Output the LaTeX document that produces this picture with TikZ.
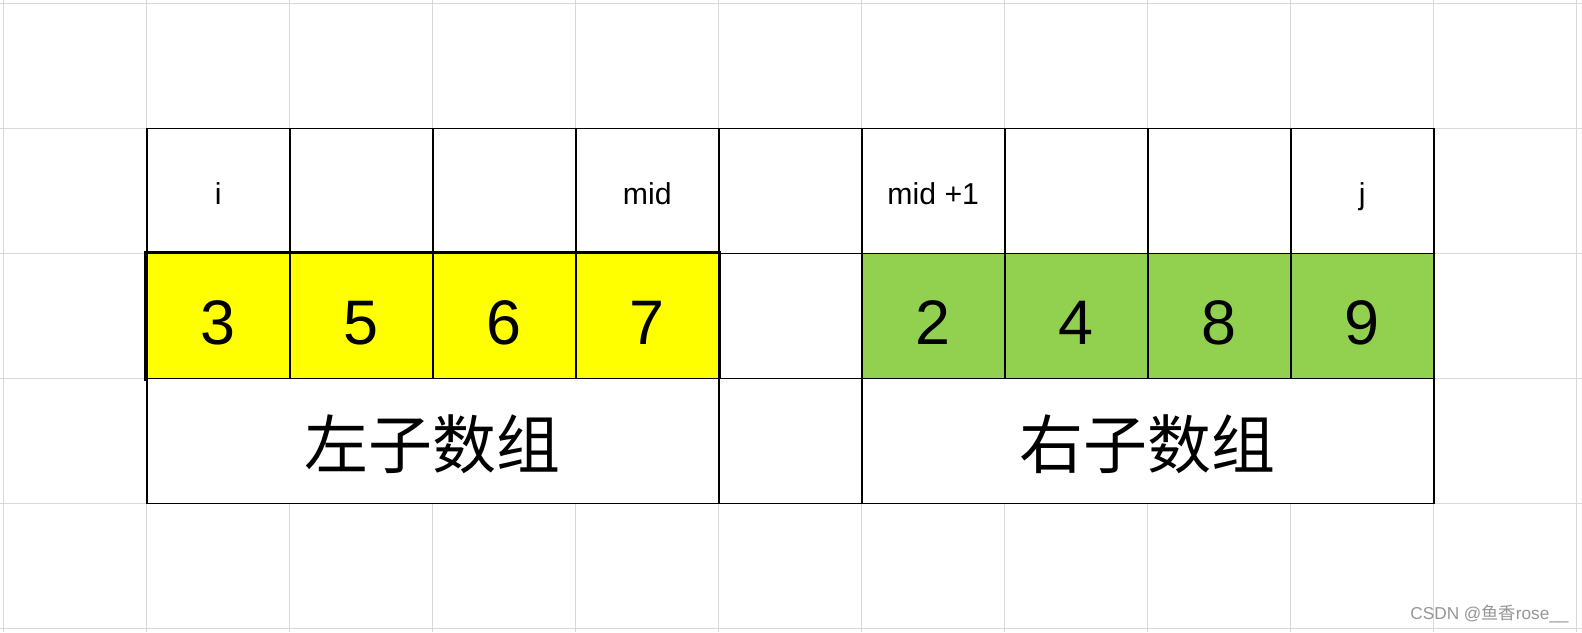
\documentclass[tikz,border=0pt]{standalone}
\usepackage{fontspec}
\setmainfont{Liberation Sans}
\newfontfamily\cjk{Noto Sans CJK SC}
\usepackage{xcolor}
\definecolor{cellyellow}{RGB}{255,255,0}
\definecolor{cellgreen}{RGB}{146,208,80}
\definecolor{gridgray}{RGB}{217,217,217}
\definecolor{markgray}{RGB}{150,150,150}

\tikzset{
  labelcell/.style={draw, line width=0.5pt, inner sep=0pt, minimum width=1.43cm, minimum height=1.25cm,
    font=\fontsize{8.6}{10}\selectfont, text height=7.9pt, text depth=0pt},
  valuecell/.style={labelcell, font=\fontsize{17.9}{20}\selectfont, text height=16.5pt, text depth=0pt},
  groupcell/.style={labelcell, minimum width=5.72cm, font=\cjk\fontsize{18.2}{20}\selectfont, text height=15.5pt, text depth=0pt}
}

\begin{document}
\begin{tikzpicture}[x=1.43cm,y=-1.25cm]
  % sheet background and grid
  \useasboundingbox[fill=white] (-0.026,-0.028) rectangle (11.037,5.028);
  \foreach \x in {0,...,11}
    \draw[gridgray,line width=0.4pt] (\x,-0.028) -- (\x,5.028);
  \foreach \y in {0,...,5}
    \draw[gridgray,line width=0.4pt] (-0.026,\y) -- (11.037,\y);

  % index row
  \foreach \c/\t in {1/i, 2/, 3/, 4/mid, 5/, 6/mid +1, 7/, 8/, 9/j}
    \node[labelcell, fill=white] (idx\c) at (\c+0.5,1.5) {\t};

  % value row
  \foreach \c/\v in {1/3, 2/5, 3/6, 4/7}
    \node[valuecell, fill=cellyellow] (val\c) at (\c+0.5,2.5) {\v};
  \node[valuecell, fill=white] (val5) at (5.5,2.5) {};
  \foreach \c/\v in {6/2, 7/4, 8/8, 9/9}
    \node[valuecell, fill=cellgreen] (val\c) at (\c+0.5,2.5) {\v};
  \draw[line width=0.9pt] (val1.north west) rectangle (val4.south east);

  % sub-array row
  \node[groupcell, fill=white] (left) at (3,3.5) {左子数组};
  \node[labelcell, fill=white] (gap) at (5.5,3.5) {};
  \node[groupcell, fill=white] (right) at (8,3.5) {右子数组};

  \node[text=markgray, font=\fontsize{4.9}{6}\selectfont, inner sep=0pt] (mark) at (10.39,4.884) {CSDN @{\cjk 鱼香}rose\_\_};
\end{tikzpicture}
\end{document}
